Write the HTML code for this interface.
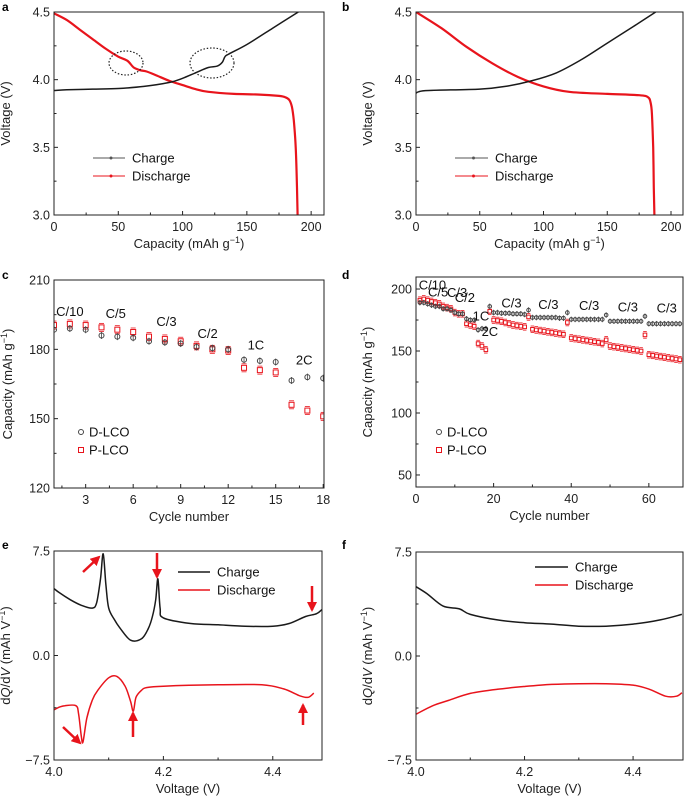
<!DOCTYPE html>
<html><head><meta charset="utf-8">
<style>
html,body{margin:0;padding:0;background:#fff;}
svg{display:block;font-family:"Liberation Sans",Arial,sans-serif;}
.tk{font-size:12.5px;fill:#222;}
.ti{font-size:13px;fill:#222;}
.lg{font-size:13px;fill:#111;}
.pl{font-size:12px;font-weight:bold;fill:#000;}
.an{font-size:13px;fill:#111;}
</style></head>
<body>
<svg id="fig" width="685" height="798" viewBox="0 0 685 798" xmlns="http://www.w3.org/2000/svg">
<defs>
<marker id="ah" viewBox="0 0 10 10" refX="8" refY="5" markerWidth="4" markerHeight="4" orient="auto"><path d="M0,0 L10,5 L0,10 z" fill="#e8141c"/></marker>
</defs>
<text class="pl" x="2" y="11">a</text>
<text class="pl" x="342" y="11">b</text>
<text class="pl" x="2" y="279">c</text>
<text class="pl" x="342" y="279">d</text>
<text class="pl" x="2" y="549">e</text>
<text class="pl" x="342" y="549">f</text>
</svg>
<script>
// ---- Panel a data ----
const aChargeCap = [0,10,30,50,70,90,100,110,120,127,131,133,136,150,170,190];
const aChargeV   = [3.92,3.925,3.93,3.935,3.95,3.98,4.01,4.05,4.09,4.10,4.13,4.17,4.19,4.26,4.38,4.5];
const aDisCap = [0,10,20,30,40,50,57,62,67,72,80,90,100,110,120,140,160,175,180,183,185,186.5,188,189,189.5];
const aDisV   = [4.49,4.44,4.37,4.30,4.23,4.17,4.14,4.09,4.07,4.06,4.03,3.99,3.96,3.93,3.91,3.895,3.89,3.88,3.87,3.85,3.8,3.7,3.5,3.2,3.0];
// ---- Panel b data ----
const bChargeCap = [0,2,10,50,70,90,110,130,150,170,188];
const bChargeV   = [3.90,3.91,3.92,3.93,3.95,3.99,4.05,4.15,4.27,4.39,4.5];
const bDisCap = [0,20,40,60,80,100,120,150,175,182,184,185,186,186.5,187];
const bDisV   = [4.5,4.38,4.24,4.12,4.02,3.95,3.91,3.895,3.885,3.87,3.83,3.75,3.5,3.2,3.0];
// ---- Panel c data ----
const cCycles = [1,2,3,4,5,6,7,8,9,10,11,12,13,14,15,16,17,18];
const cD = [188.5,189,188.5,186,185.5,185,183.5,183,182.5,181,180.5,180,175.5,175,174.5,166.5,168,167.5];
const cP = [190.5,191,190.5,189.5,188.5,187.5,185.5,184.5,183.5,181.5,180,179.5,172,171,170,156,153.5,151];
const cLabels = ["C/10","C/5","C/3","C/2","1C","2C"];
const cLabelX = [2.0,4.9,8.1,10.7,13.75,16.8];
const cLabelY = [194.5,193.5,190,185,180,173.5];
// ---- Panel d data ----
const dCycles = [];
for (let i = 1; i <= 68; i++) dCycles.push(i);
const dD = [189,189,188,187,186,186,184,184,183,181,180,180,176,175,175,167,168,168,186,
 181,181,180.5,180.5,180.5,180,180,180,179.5,183,
 177,177,177,177,177,177,177,176.5,176.5,181,
 175.5,175.5,175.5,175.5,175.5,175.5,175.5,175.5,175.5,179,
 174,174,174,174,174,174,174,174,174,178,
 172,172,172,172,172,172,172,172,172];
const dP = [191,192,191,190,189,188,186,185,184,181,180,180,172,171,170,156,154,151,182,
 175,174.6,174,173,172,171,170.5,170,169.5,177.5,
 167.5,167,166.5,166,165.5,165,164.5,164,163.5,173,
 160.5,160,159.5,159,158.5,158,157.5,157,156,159,
 154,153.5,153,152.5,152,151.5,151,150.5,150,163,
 147,146.5,146,145.5,145,144.5,144,143.5,143];
const dLabels = ["C/10","C/5","C/3","C/2","1C","2C","C/3","C/3","C/3","C/3","C/3"];
const dLabelX = [0.7,3.1,8.0,10.0,14.6,16.9,22,31.5,42,52,62];
const dLabelY = [199.5,194,193.5,189.5,174.5,162,185,184,183,182,181];
// ---- Panel e data ----
const eChV = [4.0,4.01,4.03,4.05,4.07,4.078,4.085,4.09,4.095,4.1,4.11,4.12,4.14,4.16,4.172,4.18,4.186,4.19,4.194,4.2,4.25,4.3,4.35,4.4,4.43,4.46,4.48,4.49];
const eCh  = [4.8,4.5,4.0,3.6,3.4,3.8,5.5,7.3,5.0,3.4,2.6,2.0,1.1,1.2,1.9,2.8,4.0,5.5,3.4,2.7,2.3,2.2,2.1,2.1,2.3,2.8,3.0,3.3];
const eDisV = [4.0,4.01,4.02,4.04,4.045,4.05,4.053,4.06,4.07,4.08,4.1,4.115,4.13,4.14,4.145,4.15,4.16,4.17,4.2,4.3,4.38,4.42,4.45,4.465,4.475];
const eDis  = [-3.9,-3.7,-3.6,-3.6,-4.2,-5.8,-6.2,-4.5,-3.2,-2.5,-1.6,-1.5,-2.2,-3.3,-4.0,-3.0,-2.5,-2.3,-2.2,-2.1,-2.1,-2.4,-2.9,-3.0,-2.7];
// ---- Panel f data ----
const fChV = [4.0,4.02,4.05,4.08,4.1,4.15,4.2,4.25,4.3,4.35,4.4,4.45,4.49];
const fCh  = [5.0,4.5,3.6,3.4,3.0,2.6,2.4,2.3,2.15,2.15,2.3,2.6,3.0];
const fDisV = [4.0,4.03,4.06,4.1,4.15,4.2,4.25,4.3,4.35,4.4,4.43,4.46,4.48,4.49];
const fDis  = [-4.2,-3.6,-3.2,-2.7,-2.4,-2.2,-2.05,-2.0,-2.0,-2.1,-2.4,-2.9,-2.9,-2.65];
// ---- tick arrays ----
const capTicks = [0,50,100,150,200];
const capTickLabels = ["0","50","100","150","200"];
const capMinor = [25,75,125,175];
const voltTicks = [3.0,3.5,4.0,4.5];
const voltTickLabels = ["3.0","3.5","4.0","4.5"];
const voltMinor = [3.25,3.75,4.25];
const cXTicks = [3,6,9,12,15,18];
const cXTickLabels = ["3","6","9","12","15","18"];
const cXMinor = [1.5,4.5,7.5,10.5,13.5,16.5];
const cYTicks = [120,150,180,210];
const cYTickLabels = ["120","150","180","210"];
const cYMinor = [135,165,195];
const dXTicks = [0,20,40,60];
const dXTickLabels = ["0","20","40","60"];
const dXMinor = [10,30,50];
const dYTicks = [50,100,150,200];
const dYTickLabels = ["50","100","150","200"];
const dYMinor = [75,125,175];
const dqXTicks = [4.0,4.2,4.4];
const dqXTickLabels = ["4.0","4.2","4.4"];
const dqXMinor = [4.1,4.3];
const dqYTicks = [-7.5,0,7.5];
const dqYTickLabels = ["\u22127.5","0.0","7.5"];
const dqYMinor = [-3.75,3.75];

const NS = "http://www.w3.org/2000/svg";
const svg = document.getElementById('fig');
function mk(tag, parent){ const e=document.createElementNS(NS,tag); (parent||svg).appendChild(e); return e; }
function setA(e,o){ for(const k in o) e.setAttribute(k,o[k]); return e; }

function makePanel(name, box, xd, yd){
  const g = mk('g');
  
  
  const sx = v => box.x0 + (v - xd[0])/(xd[1]-xd[0])*(box.x1-box.x0);
  const sy = v => box.y1 - (v - yd[0])/(yd[1]-yd[0])*(box.y1-box.y0);
  const clip = mk('clipPath', mk('defs', g));
  clip.setAttribute('id', 'clip-'+name);
  setA(mk('rect', clip), {x:box.x0, y:box.y0, width:box.x1-box.x0, height:box.y1-box.y0});
  const plot = mk('g', g);
  plot.setAttribute('clip-path', 'url(#clip-'+name+')');
  
  
  return {g, plot, sx, sy, box};
}
function drawAxes(P, xt, xl, xm, yt, yl, ym, xTitle, yTitle, yTitleX){
  const b = P.box;
  const fr = setA(mk('rect', P.g), {x:b.x0, y:b.y0, width:b.x1-b.x0, height:b.y1-b.y0, fill:'none', stroke:'#222', 'stroke-width':1});
  
  
  xt.forEach((v,i)=>{
    const x=P.sx(v);
    setA(mk('line',P.g),{x1:x,x2:x,y1:b.y1,y2:b.y1-4,stroke:'#222','stroke-width':1});
    const t=setA(mk('text',P.g),{x:x,y:b.y1+16,'text-anchor':'middle',class:'tk'});
    t.textContent=xl[i];
    
    
  });
  xm.forEach(v=>{ const x=P.sx(v); setA(mk('line',P.g),{x1:x,x2:x,y1:b.y1,y2:b.y1-2.5,stroke:'#222','stroke-width':1}); });
  yt.forEach((v,i)=>{
    const y=P.sy(v);
    setA(mk('line',P.g),{x1:b.x0,x2:b.x0+4,y1:y,y2:y,stroke:'#222','stroke-width':1});
    const t=setA(mk('text',P.g),{x:b.x0-4,y:y+4.5,'text-anchor':'end',class:'tk'});
    t.textContent=yl[i];
    
    
  });
  ym.forEach(v=>{ const y=P.sy(v); setA(mk('line',P.g),{x1:b.x0,x2:b.x0+2.5,y1:y,y2:y,stroke:'#222','stroke-width':1}); });
  const xtEl=setA(mk('text',P.g),{x:(b.x0+b.x1)/2,y:b.y1+33,'text-anchor':'middle',class:'ti'});
  xtEl.innerHTML=xTitle;
  
  
  const cy=(b.y0+b.y1)/2;
  const ytEl=setA(mk('text',P.g),{x:yTitleX,y:cy,'text-anchor':'middle',class:'ti',transform:'rotate(-90 '+yTitleX+' '+cy+')'});
  ytEl.innerHTML=yTitle;
  
  
}
function drawLine(P, xs, ys, color, w, name){
  const pts = xs.map((x,i)=>[P.sx(x), P.sy(ys[i])]);
  let d = 'M'+pts[0][0].toFixed(1)+','+pts[0][1].toFixed(1);
  for (let i=0;i<pts.length-1;i++){
    const p0=pts[Math.max(0,i-1)], p1=pts[i], p2=pts[i+1], p3=pts[Math.min(pts.length-1,i+2)];
    const c1=[p1[0]+(p2[0]-p0[0])/6, p1[1]+(p2[1]-p0[1])/6];
    const c2=[p2[0]-(p3[0]-p1[0])/6, p2[1]-(p3[1]-p1[1])/6];
    d += ' C'+c1[0].toFixed(1)+','+c1[1].toFixed(1)+' '+c2[0].toFixed(1)+','+c2[1].toFixed(1)+' '+p2[0].toFixed(1)+','+p2[1].toFixed(1);
  }
  const p = setA(mk('path', P.plot), {d:d, fill:'none', stroke:color, 'stroke-width':w, 'stroke-linejoin':'round'});
  
  
}
function lineLegend(P, x0, x1, y0, items){
  items.forEach((it,i)=>{
    const y=y0+i*18;
    const l=setA(mk('line',P.g),{x1:x0,x2:x1,y1:y,y2:y,stroke:it.c,'stroke-width':it.w||1.5});
    
    
    if(it.dot) setA(mk('circle',P.g),{cx:(x0+x1)/2+2,cy:y,r:1.5,fill:it.c});
    const t=setA(mk('text',P.g),{x:x1+7,y:y+4.5,class:'lg'});
    t.textContent=it.t;
    
    
  });
}
const capTitle = 'Capacity (mAh g<tspan dy="-5" font-size="9">\u22121</tspan><tspan dy="5">)</tspan>';
const dqTitle = 'd<tspan font-style="italic">Q</tspan>/d<tspan font-style="italic">V</tspan> (mAh V<tspan dy="-5" font-size="9">\u22121</tspan><tspan dy="5">)</tspan>';

// ===== Panel a =====
const A = makePanel('panel-a', {x0:54,x1:324,y0:12,y1:215}, [0,210], [3.0,4.5]);
drawLine(A, aDisCap, aDisV, '#e8141c', 2.2, 'discharge-curve');
drawLine(A, aChargeCap, aChargeV, '#1a1a1a', 1.5, 'charge-curve');
drawAxes(A, capTicks, capTickLabels, capMinor, voltTicks, voltTickLabels, voltMinor, capTitle, 'Voltage (V)', 10);
const el1=setA(mk('ellipse',A.g),{cx:126,cy:63,rx:17,ry:12,fill:'none',stroke:'#222','stroke-width':1.2,'stroke-dasharray':'1.5,1.8'});


const el2=setA(mk('ellipse',A.g),{cx:212,cy:63,rx:22,ry:15,fill:'none',stroke:'#222','stroke-width':1.2,'stroke-dasharray':'1.5,1.8'});


lineLegend(A, 93, 125, 158, [{c:'#555',t:'Charge',w:1,dot:true},{c:'#e8141c',t:'Discharge',w:1,dot:true}]);

// ===== Panel b =====
const B = makePanel('panel-b', {x0:416,x1:683,y0:12,y1:215}, [0,209.4], [3.0,4.5]);
drawLine(B, bDisCap, bDisV, '#e8141c', 2.2, 'discharge-curve');
drawLine(B, bChargeCap, bChargeV, '#1a1a1a', 1.5, 'charge-curve');
drawAxes(B, capTicks, capTickLabels, capMinor, voltTicks, voltTickLabels, voltMinor, capTitle, 'Voltage (V)', 372);
lineLegend(B, 455, 488, 158, [{c:'#555',t:'Charge',w:1,dot:true},{c:'#e8141c',t:'Discharge',w:1,dot:true}]);

// ===== Panel c =====
const C = makePanel('panel-c', {x0:54,x1:324,y0:280,y1:488}, [1,18.05], [120,210]);
function dMarker(P, x, y, r, name){
  setA(mk('line',P.plot),{x1:x,x2:x,y1:y-r-1,y2:y+r+1,stroke:'#444','stroke-width':0.8});
  const c=setA(mk('circle',P.plot),{cx:x,cy:y,r:r,fill:'none',stroke:'#444','stroke-width':1});
  
  
}
function pMarker(P, x, y, s, name){
  setA(mk('line',P.plot),{x1:x-s/2,x2:x+s/2,y1:y-s/2-1.5,y2:y-s/2-1.5,stroke:'#e8141c','stroke-width':0.8});
  setA(mk('line',P.plot),{x1:x-s/2,x2:x+s/2,y1:y+s/2+1.5,y2:y+s/2+1.5,stroke:'#e8141c','stroke-width':0.8});
  const r=setA(mk('rect',P.plot),{x:x-s/2,y:y-s/2,width:s,height:s,fill:'none',stroke:'#e8141c','stroke-width':1});
  
  
}
cCycles.forEach((cy,i)=>{ pMarker(C, C.sx(cy), C.sy(cP[i]), 5, 'p-lco-point'); });
cCycles.forEach((cy,i)=>{ dMarker(C, C.sx(cy), C.sy(cD[i]), 2.5, 'd-lco-point'); });
cLabels.forEach((s,i)=>{
  const t=setA(mk('text',C.g),{x:C.sx(cLabelX[i]),y:C.sy(cLabelY[i]),'text-anchor':'middle',class:'an'});
  t.textContent=s;
  
  
});
drawAxes(C, cXTicks, cXTickLabels, cXMinor, cYTicks, cYTickLabels, cYMinor, 'Cycle number', capTitle, 12);
{
  const c1=setA(mk('circle',C.g),{cx:81,cy:432,r:2.5,fill:'none',stroke:'#444'});
  
  
  const t1=setA(mk('text',C.g),{x:89,y:436.5,class:'lg'}); t1.textContent='D-LCO';
  
  
  const r1=setA(mk('rect',C.g),{x:78.5,y:447.5,width:5,height:5,fill:'none',stroke:'#e8141c'});
  
  
  const t2=setA(mk('text',C.g),{x:89,y:454.5,class:'lg'}); t2.textContent='P-LCO';
  
  
}

// ===== Panel d =====
const D = makePanel('panel-d', {x0:416,x1:683,y0:277,y1:487}, [0,68.8], [40.3,209.7]);
dCycles.forEach((cy,i)=>{ if(dP[i]!=null) pMarker(D, D.sx(cy), D.sy(dP[i]), 3.6, 'p-lco-point'); });
dCycles.forEach((cy,i)=>{ if(dD[i]!=null) dMarker(D, D.sx(cy), D.sy(dD[i]), 1.8, 'd-lco-point'); });
dLabels.forEach((s,i)=>{
  const t=setA(mk('text',D.g),{x:D.sx(dLabelX[i]),y:D.sy(dLabelY[i]),'text-anchor':'start',class:'an'});
  t.textContent=s;
  
  
});
drawAxes(D, dXTicks, dXTickLabels, dXMinor, dYTicks, dYTickLabels, dYMinor, 'Cycle number', capTitle, 372);
{
  const c1=setA(mk('circle',D.g),{cx:439,cy:432,r:2.5,fill:'none',stroke:'#444'});
  
  
  const t1=setA(mk('text',D.g),{x:447,y:436.5,class:'lg'}); t1.textContent='D-LCO';
  
  
  const r1=setA(mk('rect',D.g),{x:436.5,y:447.5,width:5,height:5,fill:'none',stroke:'#e8141c'});
  
  
  const t2=setA(mk('text',D.g),{x:447,y:454.5,class:'lg'}); t2.textContent='P-LCO';
  
  
}

// ===== Panel e =====
const E = makePanel('panel-e', {x0:54,x1:322,y0:551,y1:760}, [4.0,4.49], [-7.5,7.5]);
drawLine(E, eChV, eCh, '#1a1a1a', 1.5, 'charge-curve');
drawLine(E, eDisV, eDis, '#e8141c', 1.5, 'discharge-curve');
drawAxes(E, dqXTicks, dqXTickLabels, dqXMinor, dqYTicks, dqYTickLabels, dqYMinor, 'Voltage (V)', dqTitle, 10);
lineLegend(E, 178, 210, 572, [{c:'#1a1a1a',t:'Charge'},{c:'#e8141c',t:'Discharge'}]);
[[83,572,99,557],[157,553,157,577],[312,586,312,610],[63,727,80,743],[133,737,133,713],[303,725,303,705]].forEach(a=>{
  const l=setA(mk('line',E.g),{x1:a[0],y1:a[1],x2:a[2],y2:a[3],stroke:'#e8141c','stroke-width':2.5,'marker-end':'url(#ah)'});
  
  
});

// ===== Panel f =====
const F = makePanel('panel-f', {x0:416,x1:683,y0:552,y1:760}, [4.0,4.492], [-7.5,7.5]);
drawLine(F, fChV, fCh, '#1a1a1a', 1.5, 'charge-curve');
drawLine(F, fDisV, fDis, '#e8141c', 1.5, 'discharge-curve');
drawAxes(F, dqXTicks, dqXTickLabels, dqXMinor, dqYTicks, dqYTickLabels, dqYMinor, 'Voltage (V)', dqTitle, 372);
lineLegend(F, 535, 568, 567, [{c:'#1a1a1a',t:'Charge'},{c:'#e8141c',t:'Discharge'}]);
</script>
</body></html>
